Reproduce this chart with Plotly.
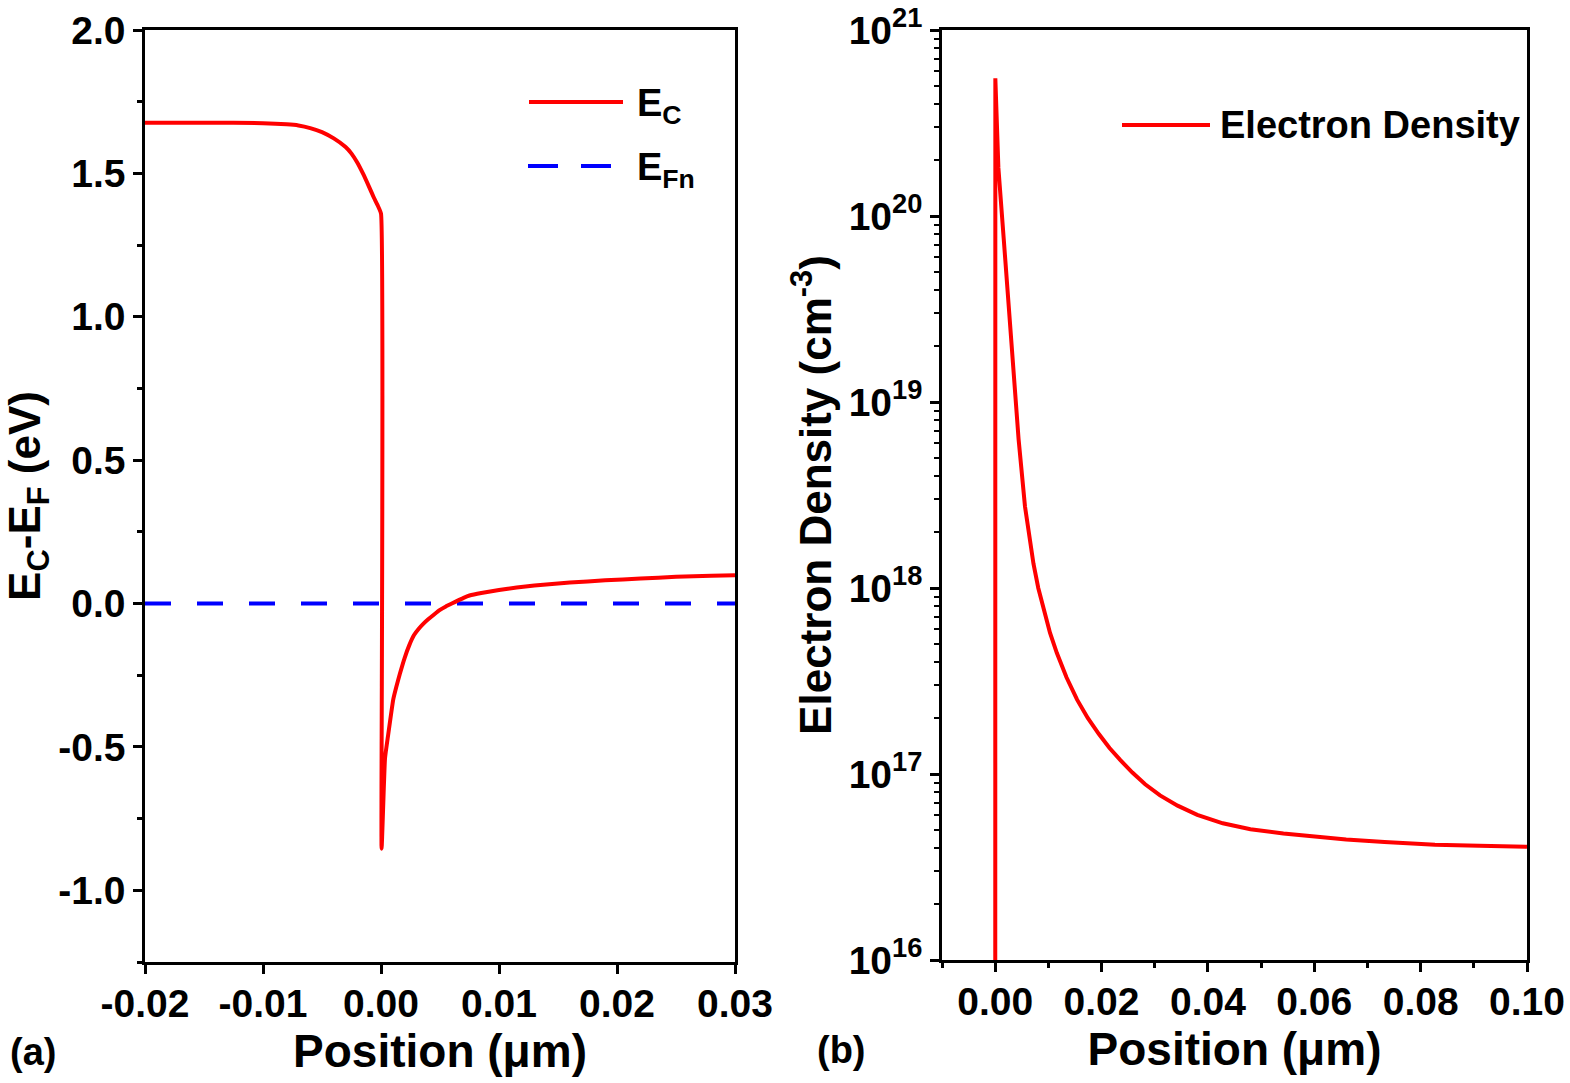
import plotly.graph_objects as go

# ---------------- data ----------------
pos_a = [-0.02, -0.015, -0.01, -0.008, -0.007, -0.006, -0.005, -0.004, -0.003,
         -0.0025, -0.002, -0.0015, -0.001, -0.0006, -0.0003, 0.0, 0.00005, 0.00034,
         0.0006, 0.00104, 0.0013, 0.0016, 0.002, 0.0024, 0.0028, 0.0032, 0.0036,
         0.004, 0.0045, 0.005, 0.0055, 0.006, 0.0065, 0.007, 0.0075, 0.0085, 0.01,
         0.0115, 0.013, 0.0145, 0.016, 0.019, 0.022, 0.025, 0.028, 0.03]
ec = [1.677, 1.677, 1.675, 1.671, 1.667, 1.658, 1.644, 1.622, 1.592,
      1.569, 1.537, 1.497, 1.452, 1.415, 1.39, 1.36, -0.855, -0.54,
      -0.46, -0.334, -0.29, -0.245, -0.19, -0.145, -0.11, -0.088, -0.07,
      -0.055, -0.038, -0.022, -0.01, 0.0, 0.01, 0.02, 0.028, 0.037, 0.047,
      0.056, 0.063, 0.068, 0.073, 0.081, 0.087, 0.093, 0.097, 0.099]

pos_efn = [-0.02, 0.03]
efn = [0.0, 0.0]

pos_b = [-0.01, 0.0, 0.00003, 0.0006, 0.0016, 0.0025, 0.0034, 0.0044, 0.0056,
         0.0064, 0.0072, 0.0081, 0.0091, 0.0103, 0.0116, 0.0134, 0.0154, 0.0174,
         0.0195, 0.0215, 0.0235, 0.0258, 0.0282, 0.031, 0.0343, 0.038, 0.0428,
         0.048, 0.0542, 0.0599, 0.066, 0.0732, 0.0827, 0.091, 0.1]
density = [1e10, 1e10, 5.5e20, 1.82e20, 7.59e19, 3.31e19, 1.45e19, 6.31e18, 2.75e18,
           1.91e18, 1.35e18, 1.0e18, 7.76e17, 5.75e17, 4.47e17, 3.31e17, 2.51e17, 2.0e17,
           1.64e17, 1.38e17, 1.19e17, 1.018e17, 8.81e16, 7.67e16, 6.76e16, 6.03e16, 5.43e16,
           5.05e16, 4.79e16, 4.59e16, 4.44e16, 4.31e16, 4.17e16, 4.11e16, 4.06e16]

xa_ticks = [-0.02, -0.01, 0.0, 0.01, 0.02, 0.03]
xa_text = ["-0.02", "-0.01", "0.00", "0.01", "0.02", "0.03"]
ya_ticks = [-1.0, -0.5, 0.0, 0.5, 1.0, 1.5, 2.0]
ya_text = ["-1.0", "-0.5", "0.0", "0.5", "1.0", "1.5", "2.0"]
ya_minor = [-1.25, -0.75, -0.25, 0.25, 0.75, 1.25, 1.75]

xb_ticks = [0.0, 0.02, 0.04, 0.06, 0.08, 0.10]
xb_text = ["0.00", "0.02", "0.04", "0.06", "0.08", "0.10"]
xb_minor = [-0.01, 0.01, 0.03, 0.05, 0.07, 0.09]
yb_exps = [16, 17, 18, 19, 20, 21]
yb_ticks = [10.0 ** e for e in yb_exps]
yb_text = ["10<sup>%d</sup>" % e for e in yb_exps]
yb_minor = [k * 10.0 ** e for e in yb_exps[:-1] for k in range(2, 10)]

# ---------------- layout helpers ----------------
W, H = 1570, 1083
def px(x):
    return x / W
def py(y):
    return 1 - y / H

RED = "#ff0000"
BLUE = "#0000ff"
FONT = "Liberation Sans, Arial, sans-serif"

fig = go.Figure()
fig.add_trace(go.Scatter(x=pos_efn, y=efn, mode="lines", name="E<sub>Fn</sub>",
                         line=dict(color=BLUE, width=4, dash="26px,26px"),
                         xaxis="x", yaxis="y", showlegend=False))
fig.add_trace(go.Scatter(x=pos_a, y=ec, mode="lines", name="E<sub>C</sub>",
                         line=dict(color=RED, width=4, shape="spline", smoothing=0.4),
                         xaxis="x", yaxis="y", showlegend=False))
fig.add_trace(go.Scatter(x=pos_b, y=density, mode="lines", name="Electron Density",
                         line=dict(color=RED, width=4),
                         xaxis="x2", yaxis="y2", showlegend=False))

axis_common = dict(showline=True, linecolor="black", linewidth=2.5, mirror=True,
                   ticks="outside", ticklen=9, tickwidth=2.5, tickcolor="black",
                   showgrid=False, zeroline=False, automargin=False,
                   tickfont=dict(size=39, color="black", family=FONT, weight="bold"))
title_font = dict(size=46, color="black", family=FONT, weight="bold")

fig.update_layout(
    width=W, height=H,
    margin=dict(l=0, r=0, t=0, b=0),
    paper_bgcolor="white", plot_bgcolor="white",
    font=dict(family=FONT, color="black", weight="bold"),
    xaxis=dict(domain=[px(145), px(735)], anchor="y", range=[-0.02, 0.03],
               tickmode="array", tickvals=xa_ticks, ticktext=xa_text,
               ticklabelstandoff=-4,
               title=dict(text="Position (\u03bcm)", font=title_font, standoff=12),
               **axis_common),
    yaxis=dict(domain=[py(962), py(30)], anchor="x", range=[-1.25, 2.0],
               tickmode="array", tickvals=ya_ticks, ticktext=ya_text,
               minor=dict(tickmode="array", tickvals=ya_minor, ticks="outside",
                          ticklen=5, tickwidth=2.5, tickcolor="black"),
               title=dict(text="E<sub>C</sub>-E<sub>F</sub> (eV)",
                          font=dict(size=44, color="black", family=FONT, weight="bold"),
                          standoff=6),
               **axis_common),
    xaxis2=dict(domain=[px(942), px(1527)], anchor="y2", range=[-0.01, 0.10],
                tickmode="array", tickvals=xb_ticks, ticktext=xb_text,
                ticklabelstandoff=-4,
                minor=dict(tickmode="array", tickvals=xb_minor, ticks="outside",
                           ticklen=5, tickwidth=2.5, tickcolor="black"),
                title=dict(text="Position (\u03bcm)", font=title_font, standoff=12),
                **axis_common),
    yaxis2=dict(domain=[py(960), py(30)], anchor="x2", type="log", range=[16, 21],
                tickmode="array", tickvals=yb_ticks, ticktext=yb_text,
                minor=dict(tickmode="array", tickvals=yb_minor, ticks="outside",
                           ticklen=5, tickwidth=2, tickcolor="black"),
                title=dict(text="Electron Density (cm<sup>-3</sup>)",
                           font=dict(size=44, color="black", family=FONT, weight="bold"),
                           standoff=4),
                **axis_common),
)

# custom legends (long sample lines as in the reference)
shapes = [
    dict(type="line", xref="paper", yref="paper", x0=px(529), x1=px(623), y0=py(102), y1=py(102),
         line=dict(color=RED, width=4)),
    dict(type="line", xref="paper", yref="paper", x0=px(528), x1=px(612), y0=py(166), y1=py(166),
         line=dict(color=BLUE, width=4, dash="30px,23px")),
    dict(type="line", xref="paper", yref="paper", x0=px(1122), x1=px(1210), y0=py(125), y1=py(125),
         line=dict(color=RED, width=4)),
]
legend_font = dict(size=38, color="black", family=FONT, weight="bold")
annotations = [
    dict(text="E<sub>C</sub>", x=px(635), y=py(106), xref="paper", yref="paper",
         xanchor="left", yanchor="middle", showarrow=False, font=legend_font),
    dict(text="E<sub>Fn</sub>", x=px(635), y=py(170), xref="paper", yref="paper",
         xanchor="left", yanchor="middle", showarrow=False, font=legend_font),
    dict(text="Electron Density", x=px(1218), y=py(125), xref="paper", yref="paper",
         xanchor="left", yanchor="middle", showarrow=False, font=legend_font),
    dict(text="(a)", x=px(8), y=py(1052), xref="paper", yref="paper",
         xanchor="left", yanchor="middle", showarrow=False, font=legend_font),
    dict(text="(b)", x=px(815), y=py(1050), xref="paper", yref="paper",
         xanchor="left", yanchor="middle", showarrow=False, font=legend_font),
]
fig.update_layout(shapes=shapes, annotations=annotations)

fig.write_html("out.html")
